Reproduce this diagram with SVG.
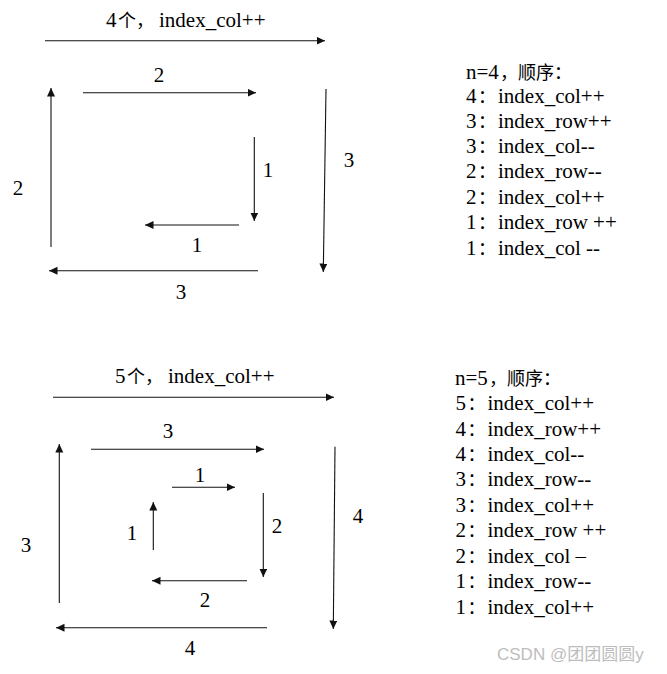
<svg xmlns="http://www.w3.org/2000/svg" width="667" height="674" viewBox="0 0 667 674">
<style>
text{font-family:'Liberation Serif',Tinos,'Times New Roman','DejaVu Serif',serif;font-size:21px;fill:#000}
.cjk{font-family:'Noto Sans CJK SC','Noto Sans CJK JP',sans-serif;font-size:18px}
.lbl{text-anchor:middle}
.wm{font-family:'Liberation Sans','Noto Sans CJK SC',sans-serif;font-size:17px;fill:#bdbdbd}
.ar{stroke:#111;stroke-width:1.1;fill:none;marker-end:url(#ah)}
</style>
<defs>
<marker id="ah" markerUnits="userSpaceOnUse" markerWidth="9" markerHeight="9" refX="8.5" refY="4" orient="auto">
<path d="M0,0 L8.5,4 L0,8 z" fill="#111"/>
</marker>
</defs>
<rect width="667" height="674" fill="#fff"/>
<g id="connectors">
<line class="ar" x1="45" y1="40.7" x2="325" y2="40.7"/>
<line class="ar" x1="83" y1="92.7" x2="256" y2="92.7"/>
<line class="ar" x1="51" y1="247" x2="51" y2="88"/>
<line class="ar" x1="254.3" y1="137" x2="254.3" y2="221"/>
<line class="ar" x1="239" y1="225" x2="145" y2="225"/>
<line class="ar" x1="258" y1="270.7" x2="49" y2="270.7"/>
<line class="ar" x1="326" y1="89" x2="323.3" y2="272"/>
<line class="ar" x1="53" y1="397.3" x2="334" y2="397.3"/>
<line class="ar" x1="91" y1="449.3" x2="264" y2="449.3"/>
<line class="ar" x1="172" y1="487.3" x2="235" y2="487.3"/>
<line class="ar" x1="59.3" y1="603" x2="59.3" y2="444"/>
<line class="ar" x1="153.3" y1="550" x2="153.3" y2="502"/>
<line class="ar" x1="263.3" y1="493" x2="263.3" y2="577"/>
<line class="ar" x1="247" y1="580.7" x2="152" y2="580.7"/>
<line class="ar" x1="267" y1="627.7" x2="56" y2="627.7"/>
<line class="ar" x1="335" y1="446.7" x2="333.3" y2="629"/>
</g>
<g id="labels-top">
<text y="26.5"><tspan x="106">4</tspan><tspan class="cjk" x="118">个，</tspan><tspan x="159">index_col++</tspan></text>
<text class="lbl" x="159" y="82">2</text>
<text class="lbl" x="18" y="195">2</text>
<text class="lbl" x="268" y="177">1</text>
<text class="lbl" x="197" y="252">1</text>
<text class="lbl" x="181" y="299">3</text>
<text class="lbl" x="349" y="167">3</text>
</g>
<g id="labels-bottom">
<text y="383"><tspan x="115">5</tspan><tspan class="cjk" x="127">个，</tspan><tspan x="168">index_col++</tspan></text>
<text class="lbl" x="168" y="438">3</text>
<text class="lbl" x="200" y="482">1</text>
<text class="lbl" x="26" y="552">3</text>
<text class="lbl" x="132" y="540">1</text>
<text class="lbl" x="277" y="533">2</text>
<text class="lbl" x="205" y="607">2</text>
<text class="lbl" x="190" y="655">4</text>
<text class="lbl" x="358" y="523">4</text>
</g>
<g id="list-n4">
<text y="79"><tspan x="466">n=4</tspan><tspan class="cjk" x="500">，顺序：</tspan></text>
<text y="103"><tspan x="466">4</tspan><tspan class="cjk" x="478">：</tspan><tspan x="498">index_col++</tspan></text>
<text y="128"><tspan x="466">3</tspan><tspan class="cjk" x="478">：</tspan><tspan x="498">index_row++</tspan></text>
<text y="153"><tspan x="466">3</tspan><tspan class="cjk" x="478">：</tspan><tspan x="498">index_col--</tspan></text>
<text y="178"><tspan x="466">2</tspan><tspan class="cjk" x="478">：</tspan><tspan x="498">index_row--</tspan></text>
<text y="203.5"><tspan x="466">2</tspan><tspan class="cjk" x="478">：</tspan><tspan x="498">index_col++</tspan></text>
<text y="229"><tspan x="466">1</tspan><tspan class="cjk" x="478">：</tspan><tspan x="498">index_row ++</tspan></text>
<text y="254.5"><tspan x="466">1</tspan><tspan class="cjk" x="478">：</tspan><tspan x="498">index_col --</tspan></text>
</g>
<g id="list-n5">
<text y="385"><tspan x="455">n=5</tspan><tspan class="cjk" x="489">，顺序：</tspan></text>
<text y="410"><tspan x="455.5">5</tspan><tspan class="cjk" x="467.5">：</tspan><tspan x="487.5">index_col++</tspan></text>
<text y="435.5"><tspan x="455.5">4</tspan><tspan class="cjk" x="467.5">：</tspan><tspan x="487.5">index_row++</tspan></text>
<text y="461"><tspan x="455.5">4</tspan><tspan class="cjk" x="467.5">：</tspan><tspan x="487.5">index_col--</tspan></text>
<text y="486"><tspan x="455.5">3</tspan><tspan class="cjk" x="467.5">：</tspan><tspan x="487.5">index_row--</tspan></text>
<text y="511.5"><tspan x="455.5">3</tspan><tspan class="cjk" x="467.5">：</tspan><tspan x="487.5">index_col++</tspan></text>
<text y="537"><tspan x="455.5">2</tspan><tspan class="cjk" x="467.5">：</tspan><tspan x="487.5">index_row ++</tspan></text>
<text y="562.5"><tspan x="455.5">2</tspan><tspan class="cjk" x="467.5">：</tspan><tspan x="487.5">index_col –</tspan></text>
<text y="588"><tspan x="455.5">1</tspan><tspan class="cjk" x="467.5">：</tspan><tspan x="487.5">index_row--</tspan></text>
<text y="613.5"><tspan x="455.5">1</tspan><tspan class="cjk" x="467.5">：</tspan><tspan x="487.5">index_col++</tspan></text>
</g>
<g id="watermark">
<text class="wm" x="497" y="660">CSDN @团团圆圆y</text>
</g>
</svg>
